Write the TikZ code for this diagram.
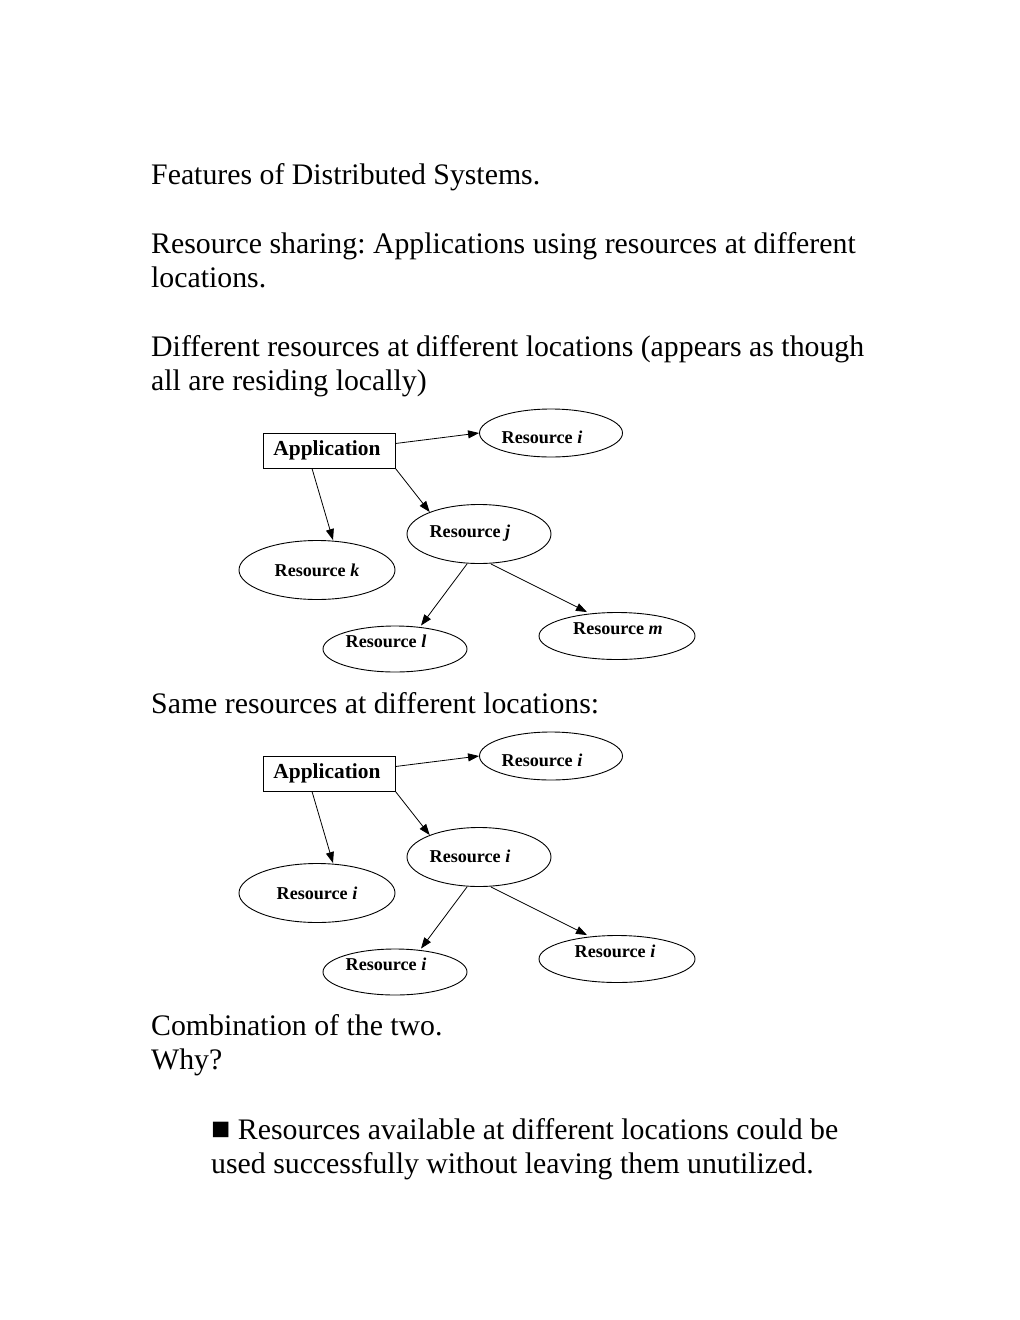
\documentclass[tikz,border=0pt]{standalone}
\usepackage{fontspec}
\setmainfont{Liberation Serif}
\usetikzlibrary{shapes.geometric,arrows.meta}
\frenchspacing

\begin{document}
\begin{tikzpicture}[x=1pt, y=-1pt,
  txt/.style={anchor=base west, inner sep=0pt, font=\fontsize{29.8}{34}\selectfont},
  appbox/.style={draw, line width=0.9pt, minimum width=132pt, minimum height=35pt, inner sep=0pt, font=\fontsize{21.4}{24}\selectfont\bfseries},
  res/.style={draw, ellipse, line width=0.9pt, inner sep=0pt},
  reslbl/.style={inner sep=0pt, font=\fontsize{18.1}{20}\selectfont\bfseries},
  link/.style={line width=0.8pt, -{Triangle[length=11pt,width=8pt]}}]
  \useasboundingbox[fill=white] (0,0) rectangle (1020,1320);

  % text lines
  \node[txt] (title) at (151,184) {Features of Distributed Systems.};
  \node[txt] (share1) at (151,253) {Resource sharing: Applications using resources at different};
  \node[txt] (share2) at (151,287) {locations.};
  \node[txt] (diff1) at (151,356) {Different resources at different locations (appears as though};
  \node[txt] (diff2) at (151,390) {all are residing locally)};
  \node[txt] (same) at (151,713) {Same resources at different locations:};
  \node[txt] (comb) at (151,1035) {Combination of the two.};
  \node[txt] (why) at (151,1069) {Why?};
  \node[txt] (bul1) at (211,1139) {{\fontsize{32}{32}\selectfont ■} Resources available at different locations could be};
  \node[txt] (bul2) at (211,1173) {used successfully without leaving them unutilized.};

  % different resources
  \node[appbox] (app1) at (329,450.5) {\hspace*{-4pt}Application};
  \node[res, minimum width=143pt, minimum height=48pt, label={[reslbl, shift={(-9pt,-4pt)}]center:Resource \textit{i}}] (top1) at (551,433) {};
  \node[res, minimum width=144pt, minimum height=59pt, label={[reslbl, shift={(-9pt,1pt)}]center:Resource \textit{j}}] (mid1) at (479,534) {};
  \node[res, minimum width=156pt, minimum height=59pt, label={[reslbl]center:Resource \textit{k}}] (left1) at (317,570) {};
  \node[res, minimum width=144pt, minimum height=46pt, label={[reslbl, shift={(-9pt,8pt)}]center:Resource \textit{l}}] (low1) at (395,649) {};
  \node[res, minimum width=156pt, minimum height=47pt, label={[reslbl, shift={(1pt,7pt)}]center:Resource \textit{m}}] (right1) at (617,636) {};
  \draw[link] ([yshift=7pt]app1.east) -- (top1.west);
  \draw[link] ([xshift=-17pt]app1.south) -- ([xshift=16pt]left1.north);
  \draw[link] (app1.south east) -- (mid1.156);
  \draw[link] ([xshift=-12pt]mid1.south) -- ([xshift=26pt]low1.north);
  \draw[link] ([xshift=12pt]mid1.south) -- ([xshift=-30pt]right1.north);

  % same resources
  \begin{scope}[yshift=-323pt]
    \node[appbox] (app2) at (329,450.5) {\hspace*{-4pt}Application};
    \node[res, minimum width=143pt, minimum height=48pt, label={[reslbl, shift={(-9pt,-4pt)}]center:Resource \textit{i}}] (top2) at (551,433) {};
    \node[res, minimum width=144pt, minimum height=59pt, label={[reslbl, shift={(-9pt,1pt)}]center:Resource \textit{i}}] (mid2) at (479,534) {};
    \node[res, minimum width=156pt, minimum height=59pt, label={[reslbl]center:Resource \textit{i}}] (left2) at (317,570) {};
    \node[res, minimum width=144pt, minimum height=46pt, label={[reslbl, shift={(-9pt,8pt)}]center:Resource \textit{i}}] (low2) at (395,649) {};
    \node[res, minimum width=156pt, minimum height=47pt, label={[reslbl, shift={(-2pt,8pt)}]center:Resource \textit{i}}] (right2) at (617,636) {};
    \draw[link] ([yshift=7pt]app2.east) -- (top2.west);
    \draw[link] ([xshift=-17pt]app2.south) -- ([xshift=16pt]left2.north);
    \draw[link] (app2.south east) -- (mid2.156);
    \draw[link] ([xshift=-12pt]mid2.south) -- ([xshift=26pt]low2.north);
    \draw[link] ([xshift=12pt]mid2.south) -- ([xshift=-30pt]right2.north);
  \end{scope}
\end{tikzpicture}
\end{document}
